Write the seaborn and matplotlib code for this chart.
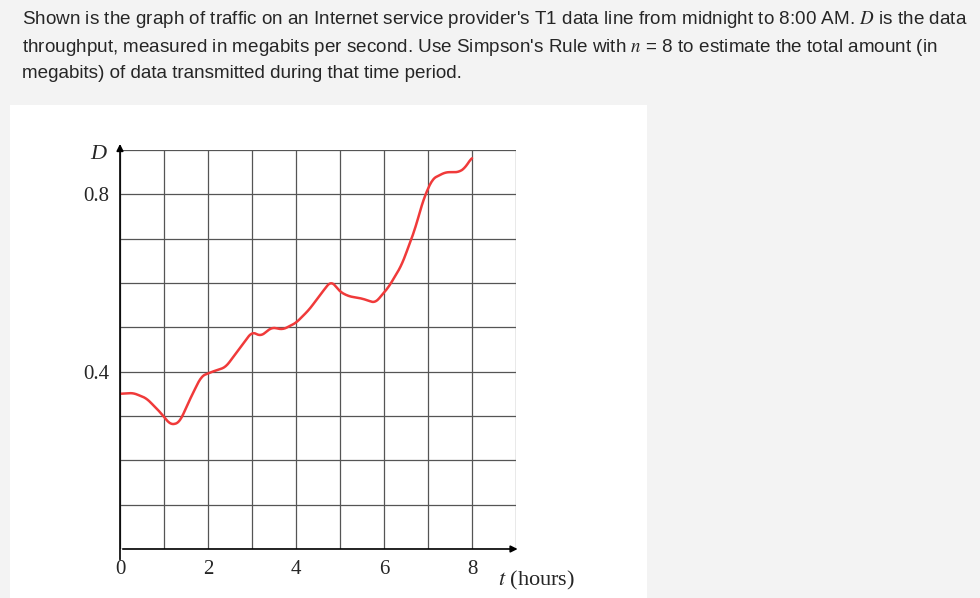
import numpy as np
import matplotlib
matplotlib.use("Agg")
import matplotlib.pyplot as plt
import seaborn as sns
import pandas as pd

# data
t_vals = [0.0, 0.3, 0.6, 0.9, 1.15, 1.35, 1.6, 1.85, 2.1, 2.4, 2.7, 3.0, 3.2, 3.45, 3.7, 4.0, 4.3, 4.6, 4.8, 5.0, 5.2, 5.5, 5.8, 6.1, 6.4, 6.7, 6.9, 7.1, 7.4, 7.7, 7.85, 8.0]
d_vals = [0.35, 0.352, 0.34, 0.31, 0.28, 0.285, 0.34, 0.39, 0.40, 0.41, 0.45, 0.49, 0.48, 0.50, 0.495, 0.51, 0.54, 0.58, 0.605, 0.58, 0.57, 0.565, 0.555, 0.59, 0.64, 0.72, 0.79, 0.835, 0.85, 0.85, 0.86, 0.885]
x_ticks = [0, 2, 4, 6, 8]
y_ticks = [0.4, 0.8]
question = ["Shown is the graph of traffic on an Internet service provider's T1 data line from midnight to 8:00 AM. $D$ is the data",
            "throughput, measured in megabits per second. Use Simpson's Rule with $n$ = 8 to estimate the total amount (in",
            "megabits) of data transmitted during that time period."]

sns.set_style("white")
plt.rcParams['font.family'] = ['Liberation Sans', 'DejaVu Sans']
plt.rcParams['mathtext.fontset'] = 'stix'

fig = plt.figure(figsize=(9.8, 5.98), dpi=100)
fig.patch.set_facecolor('#f3f3f3')
fig.patches.append(plt.Rectangle((10/980, 0), 637/980, 493/598, transform=fig.transFigure,
                                 facecolor='white', edgecolor='none', zorder=-10))
for i, line in enumerate(question):
    fig.text(22/980, 1 - (20 + 27*i)/598, line, fontsize=13.6, va='center', ha='left')

ax = fig.add_axes([120/980, 1 - 549/598, 396/980, 399/598])
ax.set_zorder(5)
ax.set_facecolor('none')
ax.set_xlim(0, 9)
ax.set_ylim(0, 0.9)
for x in np.arange(0, 10, 1):
    ax.axvline(x, color='#555555', lw=0.9, zorder=1)
for y in np.arange(0, 0.95, 0.1):
    ax.axhline(y, color='#555555', lw=0.9, zorder=1)
for s in ax.spines.values():
    s.set_visible(False)

tt = np.linspace(0, 8, 400)
dd = np.interp(tt, np.array(t_vals), np.array(d_vals))
k = np.ones(9) / 9
dd_s = np.convolve(np.pad(dd, 4, mode='edge'), k, mode='valid')
df = pd.DataFrame({'t': tt, 'D': dd_s})
sns.lineplot(data=df, x='t', y='D', ax=ax, color='#f03a3a', lw=1.8, zorder=3)

ax.annotate('', xy=(9.1, 0), xytext=(0, 0), arrowprops=dict(arrowstyle='-|>', color='black', lw=1.2), annotation_clip=False)
ax.annotate('', xy=(0, 0.92), xytext=(0, -0.03), arrowprops=dict(arrowstyle='-|>', color='black', lw=1.2), annotation_clip=False)

ax.set_xticks(x_ticks)
ax.set_xticklabels([str(x) for x in x_ticks], family='Liberation Serif', fontsize=15)
ax.set_yticks(y_ticks)
ax.set_yticklabels([f"{y}" for y in y_ticks], family='Liberation Serif', fontsize=15)
ax.tick_params(axis='both', length=0, pad=8)
ax.set_xlabel(''); ax.set_ylabel('')
ax.xaxis.get_ticklabels()[0].set_x(-0.35)
ax.text(-0.3, 0.89, 'D', family='Liberation Serif', style='italic', fontsize=16, ha='right', va='center')
ax.text(8.6, -0.07, '$t$ (hours)', family='Liberation Serif', fontsize=16, ha='left', va='center')

fig.savefig('out.png', dpi=100, facecolor=fig.get_facecolor())
